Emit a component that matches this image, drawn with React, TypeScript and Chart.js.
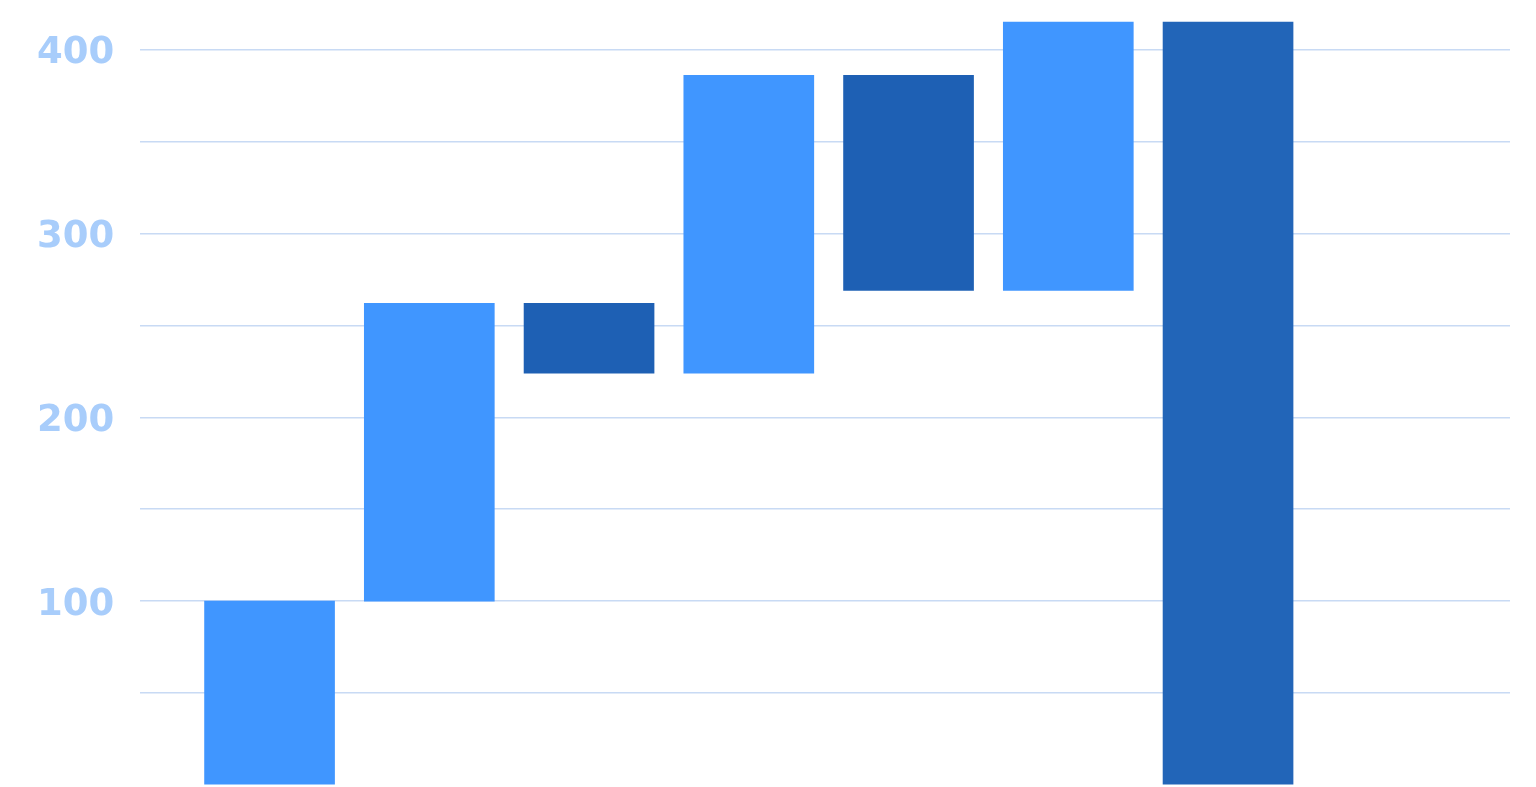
import React, { useEffect, useRef } from "react";
import { Chart, registerables } from "chart.js";

Chart.register(...registerables);

const categories = ["Step 1", "Step 2", "Step 3", "Step 4", "Step 5", "Step 6", "Total"];
const barStarts = [0, 100, 224, 224, 269, 269, 0];
const barEnds = [100, 262, 262, 386, 386, 415, 415];
const barKinds = ["up", "up", "down", "up", "down", "up", "total"];
const yTickValues = [100, 200, 300, 400];

const colorFor: Record<string, string> = {
  up: "#4096ff",
  down: "#1e60b4",
  total: "#2265b8",
};

export default function App() {
  const ref = useRef<HTMLCanvasElement | null>(null);

  useEffect(() => {
    if (!ref.current) return;
    const data = categories.map((_, i) => ({ x: i, y: [barStarts[i], barEnds[i]] }));
    const chart = new Chart(ref.current, {
      type: "bar",
      data: {
        datasets: [
          {
            label: "Waterfall",
            data: data as any,
            backgroundColor: barKinds.map((k) => colorFor[k]),
            borderWidth: 0,
            barThickness: 130,
          },
        ],
      },
      options: {
        animation: false,
        responsive: true,
        maintainAspectRatio: false,
        layout: { padding: { left: 37, right: 26, top: 0, bottom: 2 } },
        plugins: { legend: { display: false }, tooltip: { enabled: false } },
        scales: {
          x: {
            type: "linear",
            min: -0.811,
            max: 7.765,
            offset: false,
            display: false,
          },
          y: {
            min: 0,
            max: 427,
            border: { display: false },
            grid: {
              drawTicks: false,
              lineWidth: 1.5,
              color: (ctx: any) => (ctx.tick && ctx.tick.value === 0 ? "rgba(0,0,0,0)" : "#c8daf4"),
            },
            ticks: {
              stepSize: 50,
              includeBounds: false,
              crossAlign: "far",
              labelOffset: 4,
              color: "#a8cdfb",
              font: { family: "DejaVu Sans", size: 37, weight: "bold" },
              callback: (v: any) => (yTickValues.includes(Number(v)) ? String(v) : ""),
            },
            afterFit: (scale: any) => {
              scale.width = 103;
              scale.paddingTop = 0;
              scale.paddingBottom = 0;
            },
          },
        },
      },
    });
    return () => chart.destroy();
  }, []);

  return (
    <div style={{ position: "fixed", left: 0, top: 0, width: 1536, height: 787, background: "#fff" }}>
      <canvas ref={ref} />
    </div>
  );
}
